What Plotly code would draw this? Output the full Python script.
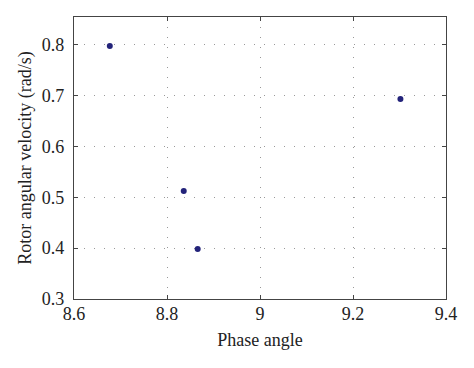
import plotly.graph_objects as go

phase_angle = [8.677, 8.836, 8.866, 9.302]
rotor_velocity = [0.797, 0.512, 0.398, 0.693]
x_ticks = [8.6, 8.8, 9.0, 9.2, 9.4]
x_tick_labels = ["8.6", "8.8", "9", "9.2", "9.4"]
y_ticks = [0.3, 0.4, 0.5, 0.6, 0.7, 0.8]
y_tick_labels = ["0.3", "0.4", "0.5", "0.6", "0.7", "0.8"]

font_family = "Liberation Serif, DejaVu Serif, serif"

fig = go.Figure()
fig.add_trace(go.Scatter(
    x=phase_angle, y=rotor_velocity, mode="markers",
    marker=dict(color="#23237a", size=6),
    showlegend=False,
))

axis_common = dict(
    showline=True, linecolor="#444444", linewidth=1.2, mirror="ticks",
    ticks="inside", ticklen=4, tickcolor="#444444",
    showgrid=True, gridcolor="#999999", griddash="1px,9px", gridwidth=1,
    zeroline=False,
    tickfont=dict(family=font_family, size=18, color="#222222"),
)

fig.update_xaxes(
    range=[8.6, 9.4], tickvals=x_ticks, ticktext=x_tick_labels,
    title=dict(text="Phase angle", font=dict(family=font_family, size=18, color="#222222"), standoff=10),
    ticklabelstandoff=-2,
    **axis_common,
)
fig.update_yaxes(
    range=[0.3, 0.854], tickvals=y_ticks, ticktext=y_tick_labels,
    title=dict(text="Rotor angular velocity (rad/s)", font=dict(family=font_family, size=18, color="#222222"), standoff=5),
    ticklabelstandoff=5,
    **axis_common,
)

fig.update_layout(
    width=474, height=368,
    margin=dict(l=74, r=28, t=17, b=69),
    paper_bgcolor="white", plot_bgcolor="white",
)

fig.write_html("out.html")
